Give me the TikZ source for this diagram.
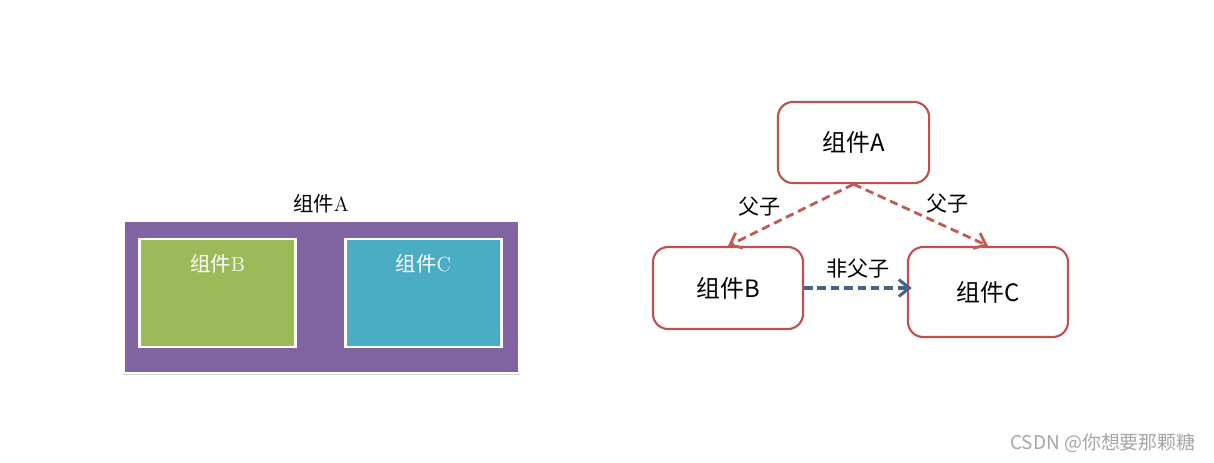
\documentclass[tikz,border=0pt]{standalone}
\usepackage{fontspec}
\newfontfamily\cjk{Noto Sans CJK SC}
\usepackage{xcolor}
\usetikzlibrary{positioning,shadows,arrows.meta}
\definecolor{boxpurple}{HTML}{8064A2}
\definecolor{boxgreen}{HTML}{9BBB59}
\definecolor{boxblue}{HTML}{4BACC6}
\definecolor{linered}{HTML}{C0504D}
\definecolor{dashred}{HTML}{C25A56}
\definecolor{dashblue}{HTML}{44628C}
\tikzstyle{frame} = [draw=white, line width=2pt, minimum width=9.9cm, minimum height=3.8cm, fill=boxpurple, drop shadow={shadow xshift=0pt, shadow yshift=-1.5pt, opacity=0.35}]
\tikzstyle{inner} = [draw=white, line width=2pt, minimum width=3.9cm, minimum height=2.7cm, drop shadow={shadow xshift=0.5pt, shadow yshift=-1pt, opacity=0.3}]
\tikzstyle{comp} = [draw=linered, line width=1.5pt, rounded corners=0.38cm, fill=white, font=\cjk\fontsize{17}{20}\selectfont]
\tikzstyle{rel} = [line width=2pt, dash pattern=on 6pt off 3.5pt, -{Straight Barb[length=2.6mm, width=4.2mm]}]
\tikzstyle{rellabel} = [font=\cjk\fontsize{15}{18}\selectfont, text=black]

\begin{document}
\begin{tikzpicture}[x=0.025cm, y=-0.025cm]
    \useasboundingbox[fill=white] (0,0) rectangle (1214,462);
    % nested view
    \node[frame] (outer) at (321.5,297) {};
    \node[font=\fontsize{14.5}{17}\selectfont] (outerlbl) at (321,204) {{\cjk 组件}A};
    \node[inner, fill=boxgreen] (boxB) at (217.5,293) {};
    \node[inner, fill=boxblue] (boxC) at (423.5,293) {};
    \node[below=0.3cm of boxB.north, text=white, font=\fontsize{14.5}{17}\selectfont] (lblB) {{\cjk 组件}B};
    \node[below=0.3cm of boxC.north, text=white, font=\fontsize{14.5}{17}\selectfont] (lblC) {{\cjk 组件}C};
    % relation view
    \node[comp, minimum width=3.78cm, minimum height=2.03cm] (nA) at (853.5,142.5) {组件A};
    \node[comp, minimum width=3.75cm, minimum height=2.05cm] (nB) at (728,288) {组件B};
    \node[comp, minimum width=4.0cm, minimum height=2.25cm] (nC) at (988,292) {组件C};
    \draw[rel, dashred] (nA.south) -- node[rellabel, anchor=east, xshift=-0.1cm, yshift=0.2cm] {父子} (nB.north);
    \draw[rel, dashred] (nA.south) -- node[rellabel, anchor=west, xshift=0cm, yshift=0.28cm] {父子} (nC.north);
    \draw[rel, dashblue, line width=2.2pt] (nB.east) -- node[rellabel, above=0.08cm] {非父子} ([xshift=0.12cm]nB.east -| nC.west);
    \node[font=\cjk\fontsize{13.5}{16}\selectfont, text=black!35] (mark) at (1103,443) {CSDN @你想要那颗糖};
\end{tikzpicture}
\end{document}
